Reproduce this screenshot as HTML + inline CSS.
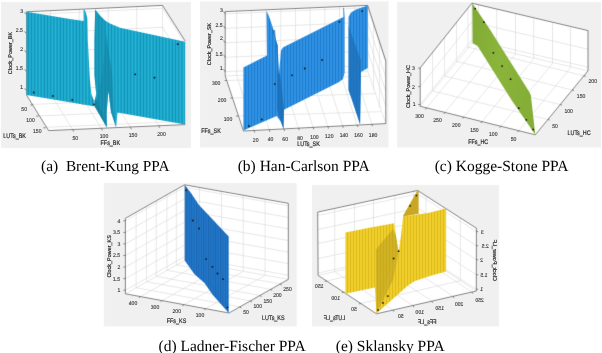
<!DOCTYPE html>
<html><head><meta charset="utf-8">
<style>
html,body{margin:0;padding:0;background:#fff;width:602px;height:353px;overflow:hidden}
svg{position:absolute;left:0;top:0;will-change:transform}
.t{font-family:"Liberation Sans",sans-serif;font-size:5.8px;fill:#333;stroke:#333;stroke-width:0.12}
.l{font-family:"Liberation Sans",sans-serif;font-size:6px;fill:#262626;stroke:#262626;stroke-width:0.18}
.lv{font-family:"Liberation Sans",sans-serif;font-size:5.45px;fill:#262626;stroke:#262626;stroke-width:0.18}
.cap{font-family:"Liberation Serif",serif;font-size:15.5px;fill:#000}
.ax{stroke:#555;stroke-width:0.7;fill:none}
.gr{stroke:#d6d6d6;stroke-width:0.6;fill:none}
.t text,text.t{transform-box:fill-box;transform-origin:center;transform:scale(0.88,0.95)}
.l text,text.l{transform-box:fill-box;transform-origin:center;transform:scale(0.9,1.1)}
</style></head>
<body>
<svg width="602" height="353" viewBox="0 0 602 353" text-rendering="geometricPrecision">
<defs>
<pattern id="stA" width="3.2" height="10" patternUnits="userSpaceOnUse">
<rect width="3.2" height="10" fill="#19a7cb"/><rect x="0.6" width="1" height="10" fill="#24b5d8"/><rect x="2.4" width="0.8" height="10" fill="#1491b2"/></pattern>
<pattern id="stB" width="3" height="10" patternUnits="userSpaceOnUse">
<rect width="3" height="10" fill="#288de0"/><rect x="0.6" width="0.9" height="10" fill="#3398e8"/><rect x="2.2" width="0.8" height="10" fill="#1f79c9"/></pattern>
<pattern id="stE" width="3" height="10" patternUnits="userSpaceOnUse">
<rect width="3" height="10" fill="#edcb25"/><rect x="0.6" width="0.9" height="10" fill="#f5d630"/><rect x="2.2" width="0.8" height="10" fill="#d8b41b"/></pattern>
<linearGradient id="grC" x1="0" y1="0" x2="1" y2="0.3">
<stop offset="0" stop-color="#80aa34"/><stop offset="0.5" stop-color="#8ab43a"/><stop offset="1" stop-color="#84ae36"/></linearGradient>
<pattern id="stD" width="2.4" height="10" patternUnits="userSpaceOnUse">
<rect width="2.4" height="10" fill="#1e72c3"/><rect x="0.5" width="0.8" height="10" fill="#257bcb"/><rect x="1.7" width="0.7" height="10" fill="#1964b0"/></pattern>
<filter id="soft" x="0" y="0" width="602" height="353" filterUnits="userSpaceOnUse" color-interpolation-filters="sRGB"><feConvolveMatrix order="3" kernelMatrix="0 1 0 1 8 1 0 1 0" divisor="12" edgeMode="duplicate"/></filter>
</defs>
<g filter="url(#soft)">
<rect x="0" y="0" width="602" height="353" fill="#fff"/>

<!-- ============ PANEL A ============ -->
<rect x="1" y="2" width="190" height="146" fill="#f0f0f0"/>
<polygon points="26.5,11.8 162.5,5.4 185.2,41.1 185.2,124.6 48.6,130.6 26.5,95" fill="#fff"/>
<g class="gr">
<line x1="26.5" y1="14.7" x2="162.5" y2="8.3"/><line x1="26.5" y1="33.7" x2="162.5" y2="27.3"/><line x1="26.5" y1="52.7" x2="162.5" y2="46.3"/><line x1="26.5" y1="71.7" x2="162.5" y2="65.3"/><line x1="26.5" y1="90.7" x2="162.5" y2="84.3"/>
<line x1="50.6" y1="10.7" x2="50.6" y2="94"/><line x1="79.2" y1="9.3" x2="79.2" y2="92.6"/><line x1="108.2" y1="8" x2="108.2" y2="91.3"/><line x1="136.7" y1="6.6" x2="136.7" y2="90"/>
<line x1="162.5" y1="5.4" x2="163.1" y2="89"/>
<line x1="162.5" y1="8.3" x2="185.2" y2="44.0"/><line x1="162.5" y1="27.3" x2="185.2" y2="63.0"/><line x1="162.5" y1="46.3" x2="185.2" y2="82.0"/><line x1="162.5" y1="65.3" x2="185.2" y2="101.0"/>
<line x1="30.7" y1="104.5" x2="167.3" y2="98.5"/><line x1="37.7" y1="116" x2="174.3" y2="110"/><line x1="44.7" y1="127.4" x2="181.3" y2="121.4"/>
<line x1="50.6" y1="94" x2="72.7" y2="129.6"/><line x1="79.2" y1="92.6" x2="101.3" y2="128.4"/><line x1="108.2" y1="91.3" x2="130.3" y2="127.1"/><line x1="136.7" y1="90" x2="158.8" y2="125.8"/>
</g>
<g class="ax">
<polyline points="26.5,95 26.5,11.8 162.5,5.4 185.2,41.1"/>
<polyline points="26.5,95 48.6,130.6 185.2,124.6"/>
<path d="M26.5,14.7l-2,-2.3M26.5,33.7l-2,-2.3M26.5,52.7l-2,-2.3M26.5,71.7l-2,-2.3M26.5,90.7l-2,-2.3M32.7,105h-2.2M38.5,116h-2.2M45.5,127.8h-2.2M72.7,129.6l1,2M101.3,128.4l1,2M130.3,127.1l1,2M158.8,125.8l1,2"/>
</g>
<polygon points="26.5,11.8 70,19.1 83.6,21 83.5,9.6 84.6,9.6 86,13 87.4,18.5 87.8,40 89.9,80 91.4,94 93.5,99.5 94.5,101 94.8,106.5 89,105.4 26.5,95" fill="url(#stA)"/>
<polygon points="95.2,9.6 100,15.6 105,20.5 110,23.5 120,27.8 185.2,41.8 185.2,124.6 117.5,112.6 116.1,127.5 111,112 108.4,90.7 106.7,112 106.9,127.5 94.8,106.5 94.5,101 96.2,94 94.4,75 94.4,40" fill="url(#stA)"/>
<polygon points="106.3,35.4 112.2,75 113.5,112.9 116.1,127.5 111,112 108.4,90.7 106.7,112 106.9,127.5 94.8,106.5 96.5,99 102,75" fill="#137f9e" opacity="0.6"/>
<polygon points="94.8,100 96.5,99 106.9,127.5 94.8,106.5" fill="#127896" opacity="0.5"/>
<polygon points="95.2,9.6 100,15.6 105,20.5 106.3,35.4 102,75 96.5,99 96.2,94 94.4,75 94.4,40" fill="#1388a8" opacity="0.45"/>
<g fill="#111">
<circle cx="33.7" cy="92.5" r="0.9"/><circle cx="52.9" cy="96" r="0.9"/><circle cx="72.3" cy="99.9" r="0.9"/><circle cx="94" cy="104.3" r="0.9"/>
<circle cx="135.2" cy="74.3" r="0.9"/><circle cx="154.5" cy="77.7" r="0.9"/><circle cx="177.8" cy="44.2" r="0.9"/>
</g>
<circle cx="83.1" cy="104.4" r="0.8" fill="#c8956a"/>






<!-- ============ PANEL B ============ -->
<rect x="200" y="1.5" width="188.5" height="146" fill="#f0f0f0"/>
<polygon points="225.2,11.6 367.7,5.4 385.8,60.8 385.8,123.6 243.5,131 225.2,75.9" fill="#fff"/>
<g class="gr">
<line x1="225.2" y1="13.9" x2="367.7" y2="7.7"/><line x1="225.2" y1="28.4" x2="367.7" y2="22.2"/><line x1="225.2" y1="42.8" x2="367.7" y2="36.6"/><line x1="225.2" y1="57.3" x2="367.7" y2="51.1"/><line x1="225.2" y1="71.7" x2="367.7" y2="65.5"/>
<line x1="236.7" y1="11.1" x2="236.7" y2="75.4"/><line x1="251.4" y1="10.5" x2="251.4" y2="74.8"/><line x1="266.1" y1="9.8" x2="266.1" y2="74.1"/><line x1="280.8" y1="9.2" x2="280.8" y2="73.5"/><line x1="295.4" y1="8.5" x2="295.4" y2="72.8"/><line x1="310.1" y1="7.9" x2="310.1" y2="72.2"/><line x1="324.8" y1="7.3" x2="324.8" y2="71.6"/><line x1="339.5" y1="6.6" x2="339.5" y2="70.9"/><line x1="354.2" y1="6" x2="354.2" y2="70.3"/>
<line x1="367.7" y1="5.4" x2="367.9" y2="71.6"/>
<line x1="367.7" y1="7.7" x2="385.8" y2="62.5"/><line x1="367.7" y1="22.2" x2="385.8" y2="77.0"/><line x1="367.7" y1="36.6" x2="385.8" y2="91.4"/><line x1="367.7" y1="51.1" x2="385.8" y2="105.9"/>
<line x1="373.6" y1="23.6" x2="373.6" y2="89.6"/><line x1="379.4" y1="41.7" x2="379.4" y2="107.7"/>
<line x1="367.9" y1="71.6" x2="385.8" y2="123.6"/><line x1="225.2" y1="75.9" x2="367.9" y2="71.6"/>
<line x1="226.7" y1="80.5" x2="369.4" y2="76.2"/><line x1="232.3" y1="98" x2="375" y2="93.7"/><line x1="238" y1="116" x2="380.7" y2="111.7"/>
<line x1="236.7" y1="75.4" x2="254" y2="130.5"/><line x1="251.4" y1="74.8" x2="269.2" y2="129.7"/><line x1="266.1" y1="74.1" x2="283.9" y2="128.9"/><line x1="280.8" y1="73.5" x2="298.5" y2="128.1"/><line x1="295.4" y1="72.8" x2="313.1" y2="127.3"/><line x1="310.1" y1="72.2" x2="327.9" y2="126.5"/><line x1="324.8" y1="71.6" x2="342.6" y2="125.7"/><line x1="339.5" y1="70.9" x2="357.2" y2="124.9"/><line x1="354.2" y1="70.3" x2="371.8" y2="124.1"/>
</g>
<g class="ax">
<polyline points="225.2,75.9 225.2,11.6 367.7,5.4 385.8,60.8 385.8,123.6"/>
<polyline points="225.2,75.9 243.5,131 385.8,123.6"/>
<path d="M225.2,13.9l-1.6,-2.4M225.2,28.4l-1.6,-2.4M225.2,42.8l-1.6,-2.4M225.2,57.3l-1.6,-2.4M225.2,71.7l-1.6,-2.4M226.7,80.5h-2M232.3,98h-2M238,116h-2M254,130.5l0.7,2M269.2,129.7l0.7,2M283.9,128.9l0.7,2M298.5,128.1l0.7,2M313.1,127.3l0.7,2M327.9,126.5l0.7,2M342.6,125.7l0.7,2M357.2,124.9l0.7,2M371.8,124.1l0.7,2"/>
</g>
<polygon points="243.4,67.4 267,55.6 266.5,11 268.5,15 271,22 273.5,30 275.5,38 277.7,45.5 278.2,60 278.8,74 280.2,60 281,50.4 283,47.5 285.3,46.2 343.4,17 343.2,7.7 344,7.7 344.6,17 344.6,72.7 343,79 338.7,82.3 284,109.7 283.5,129 281,122 276.7,116 243.4,130.5" fill="url(#stB)"/>
<polygon points="277.7,45.3 278.2,60 278.8,74 280.2,74 284,109.7 283.5,129 281,122 277.2,110 277.2,60 275.1,30 272,30" fill="#1a67ad" opacity="0.7"/>
<polygon points="348.5,17 351,12.5 356,9.5 367.8,5.6 367.8,68 361,72 360.1,124.4 352,100 348.5,90" fill="url(#stB)"/>
<polygon points="348.5,25 349.9,30 361,60.6 361,72 360.1,124.4 352,100 348.5,90" fill="#1a67ad" opacity="0.6"/>
<g fill="#111">
<circle cx="249" cy="126" r="0.9"/><circle cx="261.8" cy="119.5" r="0.9"/><circle cx="274.8" cy="84.1" r="0.9"/>
<circle cx="292" cy="75.3" r="0.9"/><circle cx="304.8" cy="68.5" r="0.9"/><circle cx="322.1" cy="59.9" r="0.9"/>
<circle cx="339.5" cy="21.8" r="0.9"/><circle cx="362.1" cy="11.1" r="0.9"/>
</g>






<!-- ============ PANEL C ============ -->
<rect x="397" y="2" width="204" height="145.5" fill="#f0f0f0"/>
<polygon points="471.9,3.2 588,30.6 588,70.8 535.3,134.8 420.2,106.3 420.2,67.9" fill="#fff"/>
<g class="gr">
<line x1="420.2" y1="86.6" x2="471.9" y2="21.9"/><line x1="471.9" y1="21.9" x2="588" y2="49.3"/><line x1="420.2" y1="104.5" x2="471.9" y2="39.8"/><line x1="471.9" y1="39.8" x2="588" y2="67.2"/><line x1="426.7" y1="107.9" x2="478.4" y2="45.1"/><line x1="478.4" y1="4.8" x2="478.4" y2="45.1"/><line x1="445.0" y1="112.4" x2="496.7" y2="49.6"/><line x1="496.7" y1="9.3" x2="496.7" y2="49.6"/><line x1="463.8" y1="117.1" x2="515.5" y2="54.3"/><line x1="515.5" y1="14.0" x2="515.5" y2="54.3"/><line x1="482.0" y1="121.6" x2="533.7" y2="58.8"/><line x1="533.7" y1="18.5" x2="533.7" y2="58.8"/><line x1="500.8" y1="126.3" x2="552.5" y2="63.5"/><line x1="552.5" y1="23.2" x2="552.5" y2="63.5"/><line x1="518.8" y1="130.7" x2="570.5" y2="67.9"/><line x1="570.5" y1="27.6" x2="570.5" y2="67.9"/><line x1="547.9" y1="119.5" x2="432.8" y2="91.0"/><line x1="432.6" y1="52.4" x2="432.6" y2="91.3"/><line x1="560.2" y1="104.6" x2="445.1" y2="76.1"/><line x1="444.6" y1="37.3" x2="444.6" y2="76.6"/><line x1="572.2" y1="90.0" x2="457.1" y2="61.5"/><line x1="456.4" y1="22.6" x2="456.4" y2="62.3"/><line x1="583.9" y1="75.8" x2="468.8" y2="47.3"/><line x1="467.9" y1="8.2" x2="467.9" y2="48.4"/><line x1="471.9" y1="3.2" x2="471.9" y2="43.5"/><line x1="471.9" y1="43.5" x2="420.2" y2="106.3"/><line x1="471.9" y1="43.5" x2="588" y2="70.8"/>
</g>
<g class="ax">
<polyline points="420.2,106.3 420.2,67.9 471.9,3.2 588,30.6 588,70.8"/>
<polyline points="420.2,106.3 535.3,134.8 588,70.8"/>
<path d="M420.2,68.2h-2M420.2,86.6h-2M420.2,104.5h-2M426.7,107.9l-1.2,1.5M445.0,112.4l-1.2,1.5M463.8,117.1l-1.2,1.5M482.0,121.6l-1.2,1.5M500.8,126.3l-1.2,1.5M518.8,130.7l-1.2,1.5M547.9,119.5l1.8,0.5M560.2,104.6l1.8,0.5M572.2,90.0l1.8,0.5M583.9,75.8l1.8,0.5"/>
</g>
<polygon points="472.3,3.2 490.3,30 529,91.5 530.8,95 535.3,134.8 511.5,100 477.6,45.9 472.6,42.9" fill="url(#grC)"/>
<g fill="#111">
<circle cx="475.2" cy="8.7" r="0.9"/><circle cx="483.9" cy="22.2" r="0.9"/><circle cx="493.4" cy="52.8" r="0.9"/><circle cx="502.1" cy="66.1" r="0.9"/>
<circle cx="510.6" cy="79.2" r="0.9"/><circle cx="518.8" cy="108.2" r="0.9"/><circle cx="526.3" cy="119.8" r="0.9"/><circle cx="533.1" cy="129.5" r="0.9"/>
</g>





<!-- ============ PANEL D ============ -->
<rect x="103.8" y="183" width="192.9" height="143.4" fill="#f0f0f0"/>
<polygon points="125.4,218.3 184.5,184.8 288.3,203.3 288.3,279.4 229,313 125.4,293.8" fill="#fff"/>
<g class="gr">
<line x1="125.4" y1="220.8" x2="184.5" y2="187.3"/><line x1="184.5" y1="187.3" x2="288.3" y2="205.8"/><line x1="125.4" y1="232.4" x2="184.5" y2="198.9"/><line x1="184.5" y1="198.9" x2="288.3" y2="217.4"/><line x1="125.4" y1="243.9" x2="184.5" y2="210.4"/><line x1="184.5" y1="210.4" x2="288.3" y2="228.9"/><line x1="125.4" y1="255.5" x2="184.5" y2="222.0"/><line x1="184.5" y1="222.0" x2="288.3" y2="240.5"/><line x1="125.4" y1="267.1" x2="184.5" y2="233.6"/><line x1="184.5" y1="233.6" x2="288.3" y2="252.1"/><line x1="125.4" y1="278.6" x2="184.5" y2="245.1"/><line x1="184.5" y1="245.1" x2="288.3" y2="263.6"/><line x1="125.4" y1="290.2" x2="184.5" y2="256.7"/><line x1="184.5" y1="256.7" x2="288.3" y2="275.2"/><line x1="239.7" y1="306.9" x2="136.1" y2="287.7"/><line x1="136.1" y1="212.3" x2="136.1" y2="287.8"/><line x1="250.3" y1="300.9" x2="146.7" y2="281.7"/><line x1="146.6" y1="206.3" x2="146.6" y2="281.9"/><line x1="259.9" y1="295.5" x2="156.3" y2="276.3"/><line x1="156.2" y1="200.8" x2="156.2" y2="276.5"/><line x1="270.6" y1="289.4" x2="167.0" y2="270.2"/><line x1="166.9" y1="194.8" x2="166.9" y2="270.5"/><line x1="280.1" y1="284.0" x2="176.5" y2="264.8"/><line x1="176.3" y1="189.4" x2="176.3" y2="265.2"/><line x1="140.5" y1="296.6" x2="199.6" y2="263.4"/><line x1="199.6" y1="187.5" x2="199.6" y2="263.3"/><line x1="162.2" y1="300.6" x2="221.3" y2="267.4"/><line x1="221.4" y1="191.4" x2="221.4" y2="267.3"/><line x1="184.0" y1="304.7" x2="243.1" y2="271.5"/><line x1="243.2" y1="195.3" x2="243.2" y2="271.2"/><line x1="205.8" y1="308.7" x2="264.9" y2="275.5"/><line x1="265.1" y1="199.2" x2="265.1" y2="275.2"/><line x1="184.5" y1="184.8" x2="184.5" y2="260.6"/><line x1="184.5" y1="260.6" x2="125.4" y2="293.8"/><line x1="184.5" y1="260.6" x2="288.3" y2="279.4"/>
</g>
<g class="ax">
<polyline points="125.4,293.8 125.4,218.3 184.5,184.8 288.3,203.3 288.3,279.4"/>
<polyline points="125.4,293.8 229,313 288.3,279.4"/>
<path d="M125.4,220.8h-2M125.4,232.4h-2M125.4,243.9h-2M125.4,255.5h-2M125.4,267.1h-2M125.4,278.6h-2M125.4,290.2h-2M239.7,306.9l1.6,1M250.3,300.9l1.6,1M259.9,295.5l1.6,1M270.6,289.4l1.6,1M280.1,284.0l1.6,1M140.5,296.6l-1.6,1M162.2,300.6l-1.6,1M184.0,304.7l-1.6,1M205.8,308.7l-1.6,1"/>
</g>
<polygon points="184.7,184.8 191,193 198.8,204.8 228.7,236.5 228.7,313 212.4,294.4 204.5,283.1 194.3,274 184.7,260.6" fill="url(#stD)"/>
<g fill="#111">
<circle cx="186" cy="190.3" r="0.9"/><circle cx="192.8" cy="220.5" r="0.9"/><circle cx="199.1" cy="228.5" r="0.9"/><circle cx="206.1" cy="259.1" r="0.9"/>
<circle cx="212.4" cy="266.8" r="0.9"/><circle cx="217.5" cy="273.5" r="0.9"/><circle cx="223" cy="279.2" r="0.9"/><circle cx="227.5" cy="307.4" r="0.9"/>
</g>






<!-- ============ PANEL E ============ -->
<rect x="312" y="185" width="187" height="141.4" fill="#f0f0f0"/>
<polygon points="317.7,212.1 417.6,190.5 476.4,228.2 476.3,291 376.5,313.8 318.1,275.4" fill="#fff"/>
<g class="gr">
<line x1="317.7" y1="215.5" x2="417.6" y2="193.9"/><line x1="417.6" y1="193.9" x2="476.4" y2="231.6"/><line x1="317.7" y1="229.6" x2="417.6" y2="208.0"/><line x1="417.6" y1="208.0" x2="476.4" y2="245.7"/><line x1="317.7" y1="243.6" x2="417.6" y2="222.0"/><line x1="417.6" y1="222.0" x2="476.4" y2="259.7"/><line x1="317.7" y1="258.7" x2="417.6" y2="237.1"/><line x1="417.6" y1="237.1" x2="476.4" y2="274.8"/><line x1="317.7" y1="273.1" x2="417.6" y2="251.5"/><line x1="417.6" y1="251.5" x2="476.4" y2="289.2"/><line x1="393.1" y1="310.0" x2="334.7" y2="271.6"/><line x1="334.7" y1="208.3" x2="334.7" y2="271.6"/><line x1="413.0" y1="305.5" x2="354.6" y2="267.1"/><line x1="354.6" y1="203.8" x2="354.6" y2="267.1"/><line x1="431.9" y1="301.1" x2="373.5" y2="262.7"/><line x1="373.5" y1="199.4" x2="373.5" y2="262.7"/><line x1="453.2" y1="296.3" x2="394.8" y2="257.9"/><line x1="394.8" y1="194.6" x2="394.8" y2="257.9"/><line x1="472.0" y1="292.0" x2="413.6" y2="253.6"/><line x1="413.6" y1="190.3" x2="413.6" y2="253.6"/><line x1="326.6" y1="281.0" x2="426.4" y2="258.2"/><line x1="426.1" y1="196.1" x2="426.1" y2="258.2"/><line x1="343.7" y1="292.2" x2="443.5" y2="269.4"/><line x1="443.2" y1="207.3" x2="443.2" y2="269.4"/><line x1="360.8" y1="303.5" x2="460.6" y2="280.7"/><line x1="460.3" y1="218.6" x2="460.3" y2="280.7"/><line x1="417.6" y1="190.5" x2="417.9" y2="252.6"/><line x1="417.9" y1="252.6" x2="318.1" y2="275.4"/><line x1="417.9" y1="252.6" x2="476.3" y2="291"/>
</g>
<g class="ax">
<polyline points="318.1,275.4 317.7,212.1 417.6,190.5 476.4,228.2 476.3,291"/>
<polyline points="318.1,275.4 376.5,313.8 476.3,291"/>
<path d="M476.3,231.6h1.8M476.3,245.7h1.8M476.3,259.7h1.8M476.3,274.8h1.8M476.3,289.2h1.8M393.1,310.0l0.8,1.6M413.0,305.5l0.8,1.6M431.9,301.1l0.8,1.6M453.2,296.3l0.8,1.6M472.0,292.0l0.8,1.6M326.6,281.0l-1.8,0.4M343.7,292.2l-1.8,0.4M360.8,303.5l-1.8,0.4"/>
</g>
<polygon points="345.4,232.5 368,227.9 394.1,223.3 396,236 398.6,251.7 376.4,313.5 374.9,287.6 345.4,293.7" fill="url(#stE)"/>
<polygon points="403.1,216.5 428,213.1 446.1,208.5 446.1,271.6 430,276 415,281 408.6,285.1 376.4,313.5 398.6,251.7 401,236" fill="url(#stE)"/>
<polygon points="417.4,190.5 418.6,190.5 418.6,213.8 403.1,216.5 402.8,216.3" fill="#c9a723"/>
<polygon points="392.9,229 396,236 398.6,251.7 392.9,280 376.4,313.5 375.9,249.4" fill="#b89a1c" opacity="0.55"/>
<g fill="#111">
<circle cx="378.1" cy="310" r="0.9"/><circle cx="383" cy="302.9" r="0.9"/><circle cx="387.9" cy="296.1" r="0.9"/><circle cx="393.6" cy="258.5" r="0.9"/>
<circle cx="398.6" cy="251.2" r="0.9"/><circle cx="410.1" cy="205.8" r="0.9"/><circle cx="416.4" cy="195.6" r="0.9"/>
</g>



</g>
<g id="labels">
<g class="t" text-anchor="end">
<text x="23.4" y="13.2">3</text><text x="23.4" y="32.5">2.5</text><text x="23.4" y="51.4">2</text><text x="23.4" y="69.9">1.5</text><text x="23.4" y="88.9">1</text>
</g>
<g class="t" text-anchor="middle">
<text x="24.2" y="110.6">50</text><text x="30.5" y="121.9">100</text><text x="37.3" y="133.5">150</text>
<text x="75.3" y="140.2">50</text><text x="104" y="137.8">100</text><text x="133" y="137.5">150</text><text x="161.5" y="136.2">200</text>
</g>
<g class="t" text-anchor="end">
<text x="223" y="12.1">3</text><text x="223" y="27.3">2.5</text><text x="223" y="40.4">2</text><text x="223" y="56.2">1.5</text><text x="223" y="69.7">1</text>
</g>
<g class="t" text-anchor="middle">
<text x="216.2" y="84.9">300</text><text x="222.1" y="102.4">200</text><text x="228" y="120.8">100</text>
<text x="255.7" y="141.9">20</text><text x="270.6" y="141.5">40</text><text x="285.2" y="141">60</text><text x="300.1" y="139.7">80</text><text x="314.4" y="139.3">100</text><text x="329.3" y="138.3">120</text><text x="343.9" y="137.5">140</text><text x="358.5" y="136.9">160</text><text x="373.1" y="136.6">180</text>
</g>
<g class="t" text-anchor="middle">
<text x="413.5" y="70.2">3</text><text x="413.5" y="88.6">2</text><text x="414.3" y="106.5">1</text>
<text x="419.5" y="118">300</text><text x="437.5" y="122.5">250</text><text x="456.3" y="127">200</text><text x="474.4" y="131.7">150</text><text x="493.3" y="136.3">100</text><text x="513.5" y="140.8">50</text>
<text x="555" y="128.1">50</text><text x="568.7" y="113.1">100</text><text x="581.1" y="97.7">150</text><text x="592.8" y="82.7">200</text>
</g>
<g class="t" text-anchor="end">
<text x="120.6" y="222.8">4</text><text x="120.6" y="234.4">3.5</text><text x="120.6" y="245.9">3</text><text x="120.6" y="257.5">2.5</text><text x="120.6" y="269.1">2</text><text x="120.6" y="280.6">1.5</text><text x="120.6" y="292.2">1</text>
</g>
<g class="t" text-anchor="middle">
<text x="133" y="305.4">400</text><text x="155" y="309">300</text><text x="176.8" y="313.5">200</text><text x="200" y="316.8">100</text>
<text x="246.1" y="314.1">50</text><text x="257.8" y="308.4">100</text><text x="267.8" y="302.6">150</text><text x="277.4" y="297.1">200</text><text x="287.5" y="291.5">250</text>
</g>
<g transform="translate(319.3,286.3) scale(-1,1)"><text class="t" text-anchor="middle" y="2">150</text></g>
<g transform="translate(335.7,298) scale(-1,1)"><text class="t" text-anchor="middle" y="2">100</text></g>
<g transform="translate(354,309.5) scale(-1,1)"><text class="t" text-anchor="middle" y="2">50</text></g>
<g transform="translate(400.7,316.5) scale(-1,1)"><text class="t" text-anchor="middle" y="2">50</text></g>
<g transform="translate(419.8,312.2) scale(-1,1)"><text class="t" text-anchor="middle" y="2">100</text></g>
<g transform="translate(439.7,308.2) scale(-1,1)"><text class="t" text-anchor="middle" y="2">150</text></g>
<g transform="translate(459.1,304.3) scale(-1,1)"><text class="t" text-anchor="middle" y="2">200</text></g>
<g transform="translate(479.6,300) scale(-1,1)"><text class="t" text-anchor="middle" y="2">250</text></g>
<g transform="translate(482.4,231.6) scale(-1,1)"><text class="t" text-anchor="middle" y="2">3</text></g>
<g transform="translate(485.3,245.7) scale(-1,1)"><text class="t" text-anchor="middle" y="2">2.5</text></g>
<g transform="translate(481.5,259.7) scale(-1,1)"><text class="t" text-anchor="middle" y="2">2</text></g>
<g transform="translate(483.9,274.8) scale(-1,1)"><text class="t" text-anchor="middle" y="2">1.5</text></g>
<g transform="translate(481.7,289.2) scale(-1,1)"><text class="t" text-anchor="middle" y="2">1</text></g>
<g transform="translate(334.5,318) scale(-1,1)"><text class="l" text-anchor="middle" y="2">LUTs_LF</text></g>
<g transform="translate(427.2,322.1) scale(-1,1)"><text class="l" text-anchor="middle" y="2">FFs_LF</text></g>
<text class="l" x="14.6" y="137.5" text-anchor="middle">LUTs_BK</text>
<text class="l" x="110.3" y="144.6" text-anchor="middle">FFs_BK</text>
<text class="lv" transform="translate(11.6,53.1) rotate(-90)" text-anchor="middle">Clock_Power_BK</text>
<text class="l" x="211" y="133.3" text-anchor="middle">FFs_SK</text>
<text class="l" x="308.5" y="145.8" text-anchor="middle">LUTs_SK</text>
<text class="lv" transform="translate(211.4,44) rotate(-90)" text-anchor="middle">Clock_Power_SK</text>
<text class="l" x="478.2" y="143.5" text-anchor="middle">FFs_HC</text>
<text class="l" x="579" y="134.9" text-anchor="middle">LUTs_HC</text>
<text class="lv" transform="translate(410.1,86.6) rotate(-90)" text-anchor="middle">Clock_Power_HC</text>
<text class="l" x="176.5" y="323" text-anchor="middle">FFs_KS</text>
<text class="l" x="273.3" y="320.2" text-anchor="middle">LUTs_KS</text>
<text class="lv" transform="translate(111.3,256.4) rotate(-90)" text-anchor="middle">Clock_Power_KS</text>
<text class="lv" transform="translate(492.5,260.3) rotate(90) scale(-1,1)" text-anchor="middle">Clock_Power_LF</text>
</g>
<!-- captions -->
<text class="cap" x="41" y="171">(a)</text><text class="cap" x="65.9" y="171" style="font-size:15.3px">Brent-Kung PPA</text>
<text class="cap" x="237.7" y="171">(b) Han-Carlson PPA</text>
<text class="cap" x="434.7" y="171">(c) Kogge-Stone PPA</text>
<text class="cap" x="158.5" y="350.5">(d) Ladner-Fischer PPA</text>
<text class="cap" x="335.8" y="350.5">(e) Sklansky PPA</text>
</svg>
</body></html>
